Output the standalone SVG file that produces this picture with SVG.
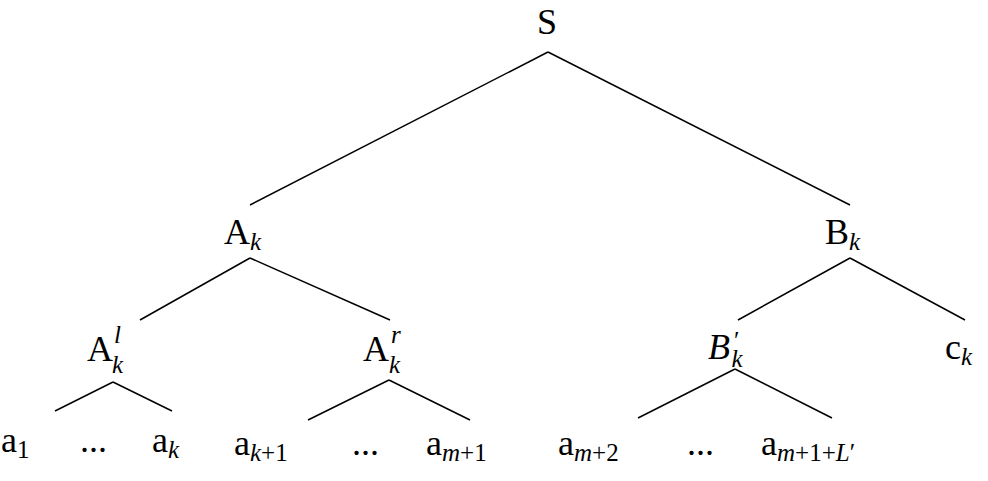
<svg xmlns="http://www.w3.org/2000/svg" width="988" height="481" viewBox="0 0 988 481">
<style>
text{font-family:"Liberation Serif","DejaVu Serif",serif;font-size:36px;fill:#000}
.i{font-style:italic}
.s{font-size:25px}
line{stroke:#000;stroke-width:1.5}
</style>
<rect width="988" height="481" fill="#fff"/>
<g id="connectors">
<line x1="548" y1="52" x2="250" y2="205"/>
<line x1="548" y1="52" x2="850" y2="205"/>
<line x1="250" y1="258" x2="140" y2="320"/>
<line x1="250" y1="258" x2="390" y2="320"/>
<line x1="850" y1="258" x2="738" y2="320"/>
<line x1="850" y1="258" x2="965" y2="320"/>
<line x1="113" y1="382" x2="55" y2="411"/>
<line x1="113" y1="382" x2="172" y2="411"/>
<line x1="389" y1="380" x2="308" y2="420"/>
<line x1="389" y1="380" x2="470" y2="420"/>
<line x1="735" y1="369" x2="638" y2="418"/>
<line x1="735" y1="369" x2="832" y2="418"/>
</g>
<g id="S"><text x="537" y="34">S</text></g>
<g id="Ak"><text x="224" y="244">A<tspan class="i s" dy="6">k</tspan></text></g>
<g id="Bk"><text x="825" y="244">B<tspan class="i s" dy="6">k</tspan></text></g>
<g id="Akl"><text x="87" y="361">A</text><text class="i s" x="114" y="343">l</text><text class="i s" x="112" y="373">k</text></g>
<g id="Akr"><text x="363" y="361">A</text><text class="i s" x="391" y="343">r</text><text class="i s" x="389" y="373">k</text></g>
<g id="Bpk"><text class="i" x="708" y="359">B<tspan class="s" font-style="normal" dx="4" dy="-10">′</tspan><tspan class="s" dx="-8" dy="18">k</tspan></text></g>
<g id="ck"><text x="945" y="359">c<tspan class="i s" dy="6">k</tspan></text></g>
<g id="a1"><text x="1" y="452">a<tspan class="s" dy="6">1</tspan></text></g>
<g id="d1"><text x="80" y="452">...</text></g>
<g id="ak"><text x="152" y="452">a<tspan class="i s" dy="6">k</tspan></text></g>
<g id="ak1"><text x="234" y="455">a<tspan class="s" dy="6"><tspan class="i">k</tspan>+1</tspan></text></g>
<g id="d2"><text x="352" y="455">...</text></g>
<g id="am1"><text x="426" y="455">a<tspan class="s" dy="6"><tspan class="i">m</tspan>+1</tspan></text></g>
<g id="am2"><text x="558" y="455">a<tspan class="s" dy="6"><tspan class="i">m</tspan>+2</tspan></text></g>
<g id="d3"><text x="687" y="455">...</text></g>
<g id="amL"><text x="761" y="455">a<tspan class="s" dy="6"><tspan class="i">m</tspan>+1+<tspan class="i">L</tspan>′</tspan></text></g>
</svg>
